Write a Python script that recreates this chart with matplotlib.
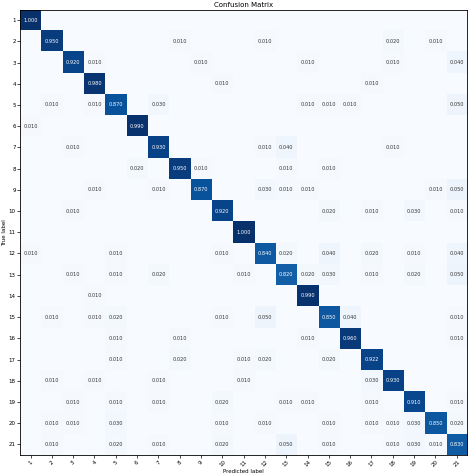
import numpy as np
import matplotlib
matplotlib.use("Agg")
import matplotlib.pyplot as plt

labels = [str(i) for i in range(1, 22)]
# (row, col, value), 1-based
entries = [
(1,1,1.0),
(2,2,.95),(2,8,.01),(2,12,.01),(2,18,.02),(2,20,.01),
(3,3,.92),(3,4,.01),(3,9,.01),(3,14,.01),(3,18,.01),(3,21,.04),
(4,4,.98),(4,10,.01),(4,17,.01),
(5,2,.01),(5,4,.01),(5,5,.87),(5,7,.03),(5,14,.01),(5,15,.01),(5,16,.01),(5,21,.05),
(6,1,.01),(6,6,.99),
(7,3,.01),(7,7,.93),(7,12,.01),(7,13,.04),(7,18,.01),
(8,6,.02),(8,8,.95),(8,9,.01),(8,13,.01),(8,15,.01),
(9,4,.01),(9,7,.01),(9,9,.87),(9,12,.03),(9,13,.01),(9,14,.01),(9,20,.01),(9,21,.05),
(10,3,.01),(10,10,.92),(10,15,.02),(10,17,.01),(10,19,.03),(10,21,.01),
(11,11,1.0),
(12,1,.01),(12,5,.01),(12,10,.01),(12,12,.84),(12,13,.02),(12,15,.04),(12,17,.02),(12,19,.01),(12,21,.04),
(13,3,.01),(13,5,.01),(13,7,.02),(13,11,.01),(13,13,.82),(13,14,.02),(13,15,.03),(13,17,.01),(13,19,.02),(13,21,.05),
(14,4,.01),(14,14,.99),
(15,2,.01),(15,4,.01),(15,5,.02),(15,10,.01),(15,12,.05),(15,15,.85),(15,16,.04),(15,21,.01),
(16,5,.01),(16,8,.01),(16,14,.01),(16,16,.96),(16,21,.01),
(17,5,.01),(17,8,.02),(17,11,.01),(17,12,.02),(17,15,.02),(17,17,.922),
(18,2,.01),(18,4,.01),(18,7,.01),(18,11,.01),(18,17,.03),(18,18,.93),
(19,3,.01),(19,5,.01),(19,7,.01),(19,10,.02),(19,13,.01),(19,14,.01),(19,17,.01),(19,19,.91),(19,21,.01),
(20,2,.01),(20,3,.01),(20,5,.03),(20,10,.01),(20,12,.01),(20,15,.01),(20,17,.01),(20,18,.01),(20,19,.03),(20,20,.85),(20,21,.02),
(21,2,.01),(21,5,.02),(21,7,.01),(21,10,.02),(21,13,.05),(21,15,.01),(21,18,.01),(21,19,.03),(21,20,.01),(21,21,.83),
]
n = len(labels)
cm = np.zeros((n, n))
for r, c, v in entries:
    cm[r-1, c-1] = v

fig = plt.figure(figsize=(4.74, 4.75), dpi=100)
ax = fig.add_axes([0.042, 0.042, 0.944, 0.938])
ax.imshow(cm, cmap="Blues", aspect="auto", interpolation="nearest")
ax.set_title("Confusion Matrix", fontsize=5, pad=2)
ax.set_xticks(range(n)); ax.set_yticks(range(n))
ax.set_xticklabels(labels, rotation=45, fontsize=4)
ax.set_yticklabels(labels, fontsize=4)
ax.tick_params(length=2, width=0.5, pad=1)
ax.set_xlabel("Predicted label", fontsize=4, labelpad=1)
ax.set_ylabel("True label", fontsize=4, labelpad=1)
thr = cm.max() / 2
for i in range(n):
    for j in range(n):
        if cm[i, j] > 0:
            ax.text(j, i, f"{cm[i,j]:.3f}", ha="center", va="center", fontsize=3.6,
                    color="white" if cm[i, j] > thr else "#333333")
for s in ax.spines.values():
    s.set_linewidth(0.6)
fig.savefig("out.png", dpi=100)
